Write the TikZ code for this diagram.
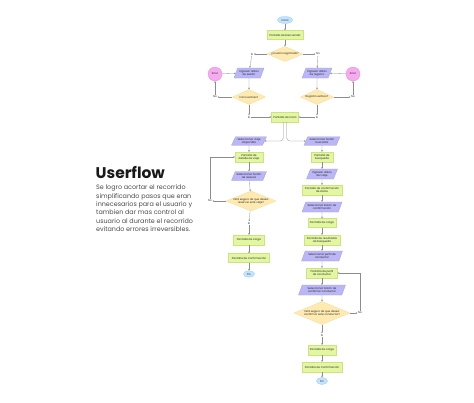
\documentclass[tikz,border=0pt]{standalone}
\usepackage{fontspec}
\setmainfont{Poppins}
\usetikzlibrary{shapes.geometric,arrows.meta}

\definecolor{ovalfill}{HTML}{C2E4FF}
\definecolor{ovalline}{HTML}{92CBF3}
\definecolor{screenfill}{HTML}{E3F6A2}
\definecolor{screenline}{HTML}{CDE47E}
\definecolor{actionfill}{HTML}{BBB6F5}
\definecolor{actionline}{HTML}{A39DEA}
\definecolor{askfill}{HTML}{FFEBB2}
\definecolor{askline}{HTML}{F4DA90}
\definecolor{errfill}{HTML}{F6AAEF}
\definecolor{errline}{HTML}{E78DDE}
\definecolor{flowline}{HTML}{8C8C8C}
\definecolor{bodytext}{HTML}{4A4A4A}

\tikzset{
  every node/.style={font=\fontsize{2.7}{3.2}\selectfont, text=black!85},
  startend/.style={ellipse, fill=ovalfill, draw=ovalline, line width=0.3pt,
    minimum width=15, minimum height=7, inner sep=0pt},
  screen/.style={rectangle, fill=screenfill, draw=screenline, line width=0.3pt,
    minimum height=9, inner sep=1.2pt, align=center},
  action/.style={trapezium, trapezium left angle=62, trapezium right angle=118,
    trapezium stretches body, fill=actionfill, draw=actionline, line width=0.3pt,
    minimum height=9, inner sep=0.8pt, align=center},
  ask/.style={diamond, aspect=2.5, fill=askfill, draw=askline, line width=0.3pt,
    inner sep=0pt, align=center},
  errorball/.style={circle, fill=errfill, draw=errline, line width=0.3pt,
    minimum size=14, inner sep=0pt},
  tag/.style={inner sep=0.5pt},
  link/.style={draw=flowline, line width=0.3pt, ->},
}

\begin{document}
\begin{tikzpicture}[x=1pt,y=-1pt,>={Stealth[length=1.7pt,width=1.7pt]}]
    \useasboundingbox[fill=white] (0,0) rectangle (474,402);

    % texto a la izquierda
    \node[anchor=north west, inner sep=0pt, font=\fontsize{15.5}{18}\selectfont\bfseries, text=black!90] (titulo) at (95.5,166) {Userflow};
    \node[anchor=north west, inner sep=0pt, align=left, font=\fontsize{6.4}{8.45}\selectfont, text=bodytext] (resumen) at (96,184.5)
        {Se logro acortar el recorrido\\simplificando pasos que eran\\innecesarios para el usuario y\\tambien dar mas control al\\usuario al durante el recorrido\\evitando errores irreversibles.};

    % parte superior
    \node[startend] (ini) at (285,20) {Inicio};
    \node[screen, minimum width=36] (bienv) at (285,35) {Pantalla de bienvenida};
    \node[ask, minimum width=36, minimum height=15] (reg) at (285,54) {¿Usuario registrado?};
    \node[tag] (si1) at (252,54) {Si};
    \node[tag] (no1) at (318,54) {No};

    \node[action, minimum width=30, minimum height=10] (sesion) at (249,73) {Ingresar datos\\de sesión};
    \node[action, minimum width=30, minimum height=10] (registro) at (317,73) {Ingresar datos\\de registro};
    \node[errorball] (err1) at (215,74) {Error};
    \node[errorball] (err2) at (353,74) {Error};

    \node[ask, minimum width=33, minimum height=15] (okses) at (249,97) {Inicio exitoso?};
    \node[ask, minimum width=33, minimum height=15] (okreg) at (317,97) {Registro exitoso?};
    \node[tag] (no2) at (215,97) {No};
    \node[tag] (no3) at (353,97) {No};
    \node[tag] (si2) at (249,117) {Si};
    \node[tag] (si3) at (317,117) {Si};
    \node[screen, minimum width=27, minimum height=10] (inicio) at (285,117) {Pantalla de inicio};

    % columna izquierda: reserva
    \node[action, minimum width=35, minimum height=8.5] (viaje) at (249,141) {Seleccionar viaje\\disponible};
    \node[screen, minimum width=28, minimum height=10] (detalle) at (249,157) {Pantalla de\\detalle de viaje};
    \node[action, minimum width=35, minimum height=9] (reserva) at (249,176) {Seleccionar botón\\de reserva};
    \node[ask, minimum width=50, minimum height=20] (seg1) at (251,201) {Está seguro de que desea\\reservar este viaje?};
    \node[tag] (no4) at (210,201) {No};
    \node[tag] (si4) at (249,223) {Si};
    \node[screen, minimum width=31, minimum height=10] (carga1) at (249,240) {Pantalla de carga};
    \node[screen, minimum width=41, minimum height=9] (conf1) at (249,258) {Pantalla de Confirmación};
    \node[startend, minimum width=11, minimum height=6.5] (fin1) at (249,274) {Fin};

    % columna derecha: busqueda
    \node[action, minimum width=36, minimum height=8.5] (buscador) at (322,141) {Seleccionar botón\\buscador};
    \node[screen, minimum width=22, minimum height=10] (busq) at (322,157) {Pantalla de\\búsqueda};
    \node[action, minimum width=31, minimum height=10] (datosv) at (322,174) {Ingresar datos\\del viaje};
    \node[screen, minimum width=40, minimum height=10] (confd) at (322,190) {Pantalla de confirmación\\de datos};
    \node[action, minimum width=40, minimum height=10] (botconf) at (322,207) {Seleccionar botón de\\confirmación};
    \node[screen, minimum width=28, minimum height=9] (carga2) at (322,223) {Pantalla de carga};
    \node[screen, minimum width=36, minimum height=10] (result) at (322,240) {Pantalla de resultados\\de búsqueda};
    \node[action, minimum width=41, minimum height=10] (perfilsel) at (322,256) {Seleccionar perfil de\\conductor};
    \node[screen, minimum width=31, minimum height=10] (perfil) at (322,273) {Pantalla de perfil\\de conductor};
    \node[action, minimum width=47, minimum height=10] (botcond) at (322,290) {Seleccionar botón de\\confirmar conductor};
    \node[ask, minimum width=56, minimum height=23] (seg2) at (322,313) {Está seguro de que desea\\confirmar este conductor?};
    \node[tag] (no5) at (360,313) {No};
    \node[tag] (si5) at (322,335) {Si};
    \node[screen, minimum width=28, minimum height=10] (carga3) at (322,350) {Pantalla de carga};
    \node[screen, minimum width=40, minimum height=10] (conf2) at (322,367) {Pantalla de Confirmación};
    \node[startend, minimum width=11, minimum height=7] (fin2) at (322,381) {Fin};

    % conexiones
    \foreach \from/\to in {ini/bienv, bienv/reg, reg/si1, reg/no1, si1/sesion, no1/registro,
                           err1/sesion, err2/registro, sesion/okses, registro/okreg,
                           okses/no2, okreg/no3, no2/err1, no3/err2, okses/si2, okreg/si3,
                           si2/inicio, si3/inicio,
                           viaje/detalle, detalle/reserva, reserva/seg1, seg1/no4, seg1/si4,
                           si4/carga1, carga1/conf1, conf1/fin1,
                           buscador/busq, busq/datosv, datosv/confd, confd/botconf,
                           botconf/carga2, carga2/result, result/perfilsel, perfilsel/perfil,
                           perfil/botcond, botcond/seg2, seg2/no5, seg2/si5,
                           si5/carga3, carga3/conf2, conf2/fin2}
        \draw[link] (\from) -- (\to);

    \draw[link, rounded corners=3] ([xshift=-1.8pt]inicio.south) |- (viaje.east);
    \draw[link, rounded corners=3] ([xshift=1.8pt]inicio.south) |- (buscador.west);
    \draw[link] (no4.north) |- (detalle.west);
    \draw[link] (no5.north) |- (perfil.east);
\end{tikzpicture}
\end{document}
